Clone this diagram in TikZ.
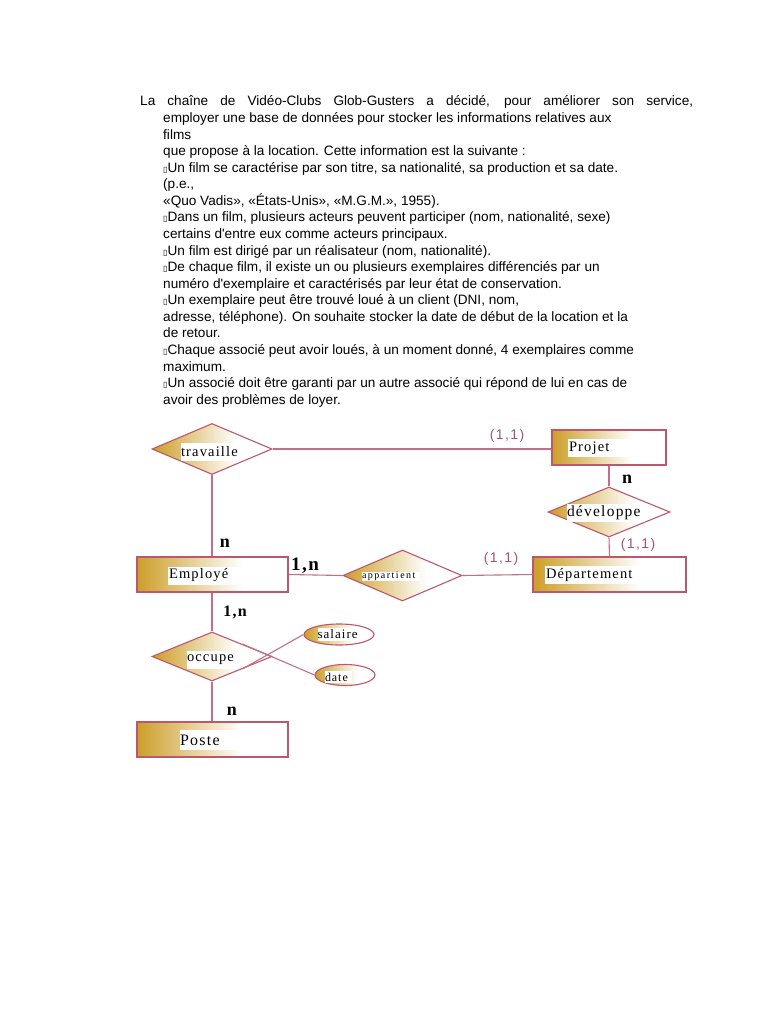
\documentclass[tikz,border=0pt]{standalone}
\usepackage{fontspec}
\setmainfont{Liberation Sans}
\newfontfamily\bodyf{Liberation Sans}
\newfontfamily\serifer{Liberation Serif}[LetterSpace=8]
\newfontfamily\wideserif{Liberation Serif}[LetterSpace=15]
\newfontfamily\cardsans{Liberation Sans}[LetterSpace=10]
\newfontfamily\dejavu{DejaVu Sans}
\usetikzlibrary{shapes.geometric}
\definecolor{gold}{RGB}{205,158,40}
\definecolor{bord}{RGB}{188,88,110}
\definecolor{linec}{RGB}{196,110,135}
\definecolor{cardc}{RGB}{165,85,115}
\pgfdeclarehorizontalshading{goldfade}{100bp}{color(0bp)=(gold); color(25bp)=(gold); color(60bp)=(white); color(100bp)=(white)}
\newcommand\bul{{\dejavu\fontsize{8}{8}\selectfont ▯}}
\begin{document}
\begin{tikzpicture}[x=1pt,y=-1pt,
  txt/.style={anchor=base west, inner sep=0, font=\bodyf\fontsize{13.6}{16}\selectfont},
  entity/.style={rectangle, draw=bord, line width=1.1pt, shade, shading=goldfade, minimum height=35pt, inner sep=0},
  rel/.style={diamond, draw=bord, line width=1.1pt, shade, shading=goldfade, minimum width=120pt, minimum height=50pt, inner sep=0},
  attr/.style={ellipse, draw=bord, line width=1.1pt, shade, shading=goldfade, inner sep=0},
  lbl/.style={fill=white, inner sep=0pt, minimum height=18pt, align=left, font=\serifer\fontsize{14.5}{14.5}\selectfont},
  conn/.style={draw=linec, line width=1.1pt},
  card/.style={inner sep=0, font=\serifer\bfseries\fontsize{18}{18}\selectfont},
  cardp/.style={inner sep=0, text=cardc, font=\cardsans\fontsize{14}{14}\selectfont}]
\useasboundingbox[fill=white] (0,0) rectangle (768,1024);

% ---- text ----
\node[txt] (l1) at (140,106) {\makebox[553pt][s]{La chaîne de Vidéo-Clubs Glob-Gusters a décidé, pour améliorer son service,}};
\node[txt] (l2) at (163,122.6) {employer une base de données pour stocker les informations relatives aux};
\node[txt] (l3) at (163,139.1) {films};
\node[txt] (l4) at (163,155.7) {que propose à la location. Cette information est la suivante :};
\node[txt] (l5) at (163,172.2) {\bul Un film se caractérise par son titre, sa nationalité, sa production et sa date.};
\node[txt] (l6) at (163,188.8) {(p.e.,};
\node[txt] (l7) at (163,205.4) {«Quo Vadis», «États-Unis», «M.G.M.», 1955).};
\node[txt] (l8) at (163,221.9) {\bul Dans un film, plusieurs acteurs peuvent participer (nom, nationalité, sexe)};
\node[txt] (l9) at (163,238.5) {certains d'entre eux comme acteurs principaux.};
\node[txt] (l10) at (163,255.0) {\bul Un film est dirigé par un réalisateur (nom, nationalité).};
\node[txt] (l11) at (163,271.6) {\bul De chaque film, il existe un ou plusieurs exemplaires différenciés par un};
\node[txt] (l12) at (163,288.2) {numéro d'exemplaire et caractérisés par leur état de conservation.};
\node[txt] (l13) at (163,304.7) {\bul Un exemplaire peut être trouvé loué à un client (DNI, nom,};
\node[txt] (l14) at (163,321.3) {adresse, téléphone). On souhaite stocker la date de début de la location et la};
\node[txt] (l15) at (163,337.8) {de retour.};
\node[txt] (l16) at (163,354.4) {\bul Chaque associé peut avoir loués, à un moment donné, 4 exemplaires comme};
\node[txt] (l17) at (163,371.0) {maximum.};
\node[txt] (l18) at (163,387.5) {\bul Un associé doit être garanti par un autre associé qui répond de lui en cas de};
\node[txt] (l19) at (163,404.1) {avoir des problèmes de loyer.};

% ---- shapes ----
\node[entity, minimum width=114pt] (projet) at (609,447.5) {};
\node[entity, minimum width=153pt] (dept) at (609.5,574.5) {};
\node[entity, minimum width=151pt] (employe) at (212.5,574.5) {};
\node[entity, minimum width=151pt] (poste) at (212.5,739.5) {};
\node[rel, minimum height=51pt] (travaille) at (212,449) {};
\node[rel, minimum width=122pt] (developpe) at (609,512) {};
\node[rel, minimum width=119pt, minimum height=51pt] (appartient) at (402.5,575.5) {};
\node[rel, minimum height=49pt] (occupe) at (212,656.5) {};
\node[attr, minimum width=70pt, minimum height=21pt] (salaire) at (339,634.5) {};
\node[attr, minimum width=60pt, minimum height=21pt] (date) at (345,675) {};

% ---- labels ----
\node[lbl, text width=80pt] (tprojet) at (608,448) {\hspace{1pt}Projet};
\node[lbl, text width=98pt] (tdept) at (594,575) {\hspace{1pt}Département};
\node[lbl, text width=89pt] (temploye) at (212.5,575.5) {\hspace{1pt}Employé};
\node[lbl, text width=62pt, minimum height=20pt, font=\serifer\fontsize{16}{16}\selectfont] (tposte) at (211,740) {Poste};
\node[lbl, text width=58pt] (ttravaille) at (210,451.5) {travaille};
\node[lbl, text width=78pt, font=\serifer\fontsize{15.5}{15.5}\selectfont] (tdeveloppe) at (606,513) {développe};
\node[lbl, text width=58pt, minimum height=9pt, font=\wideserif\fontsize{10}{10}\selectfont] (tappartient) at (391,576) {appartient};
\node[lbl, text width=50pt] (toccupe) at (212,660) {occupe};
\node[lbl, text width=41pt, minimum height=13pt, font=\serifer\fontsize{13}{13}\selectfont] (tsalaire) at (338,634.5) {salaire};
\node[lbl, text width=27pt, minimum height=12pt, font=\serifer\fontsize{12}{12}\selectfont] (tdate) at (338.5,677) {date};

% ---- connectors ----
\draw[conn] (travaille.east) -- (projet.west |- travaille.east);
\draw[conn] (projet.south) -- (developpe.north);
\draw[conn] (developpe.south) -- (dept.north);
\draw[conn] (travaille.south) -- (employe.north -| travaille.south);
\draw[conn] (employe.east) -- (appartient.west);
\draw[conn] (appartient.east) -- (dept.west);
\draw[conn] (employe.south -| occupe.north) -- (occupe.north);
\draw[conn] (occupe.south) -- (poste.north -| occupe.south);
\draw[conn] (occupe.north east) -- (date.west);
\draw[conn] (occupe.south east) -- (salaire.west);

% ---- cardinalities ----
\node[cardp] (c1) at (507,436) {(1,1)};
\node[card] (c2) at (627,479) {n};
\node[cardp] (c3) at (638,545) {(1,1)};
\node[cardp] (c4) at (501,559) {(1,1)};
\node[card, font=\serifer\bfseries\fontsize{19}{19}\selectfont] (c5) at (305,566) {1,n};
\node[card] (c6) at (225,543) {n};
\node[card, font=\serifer\bfseries\fontsize{16}{16}\selectfont] (c7) at (235,612) {1,n};
\node[card] (c8) at (232,711) {n};
\end{tikzpicture}
\end{document}
